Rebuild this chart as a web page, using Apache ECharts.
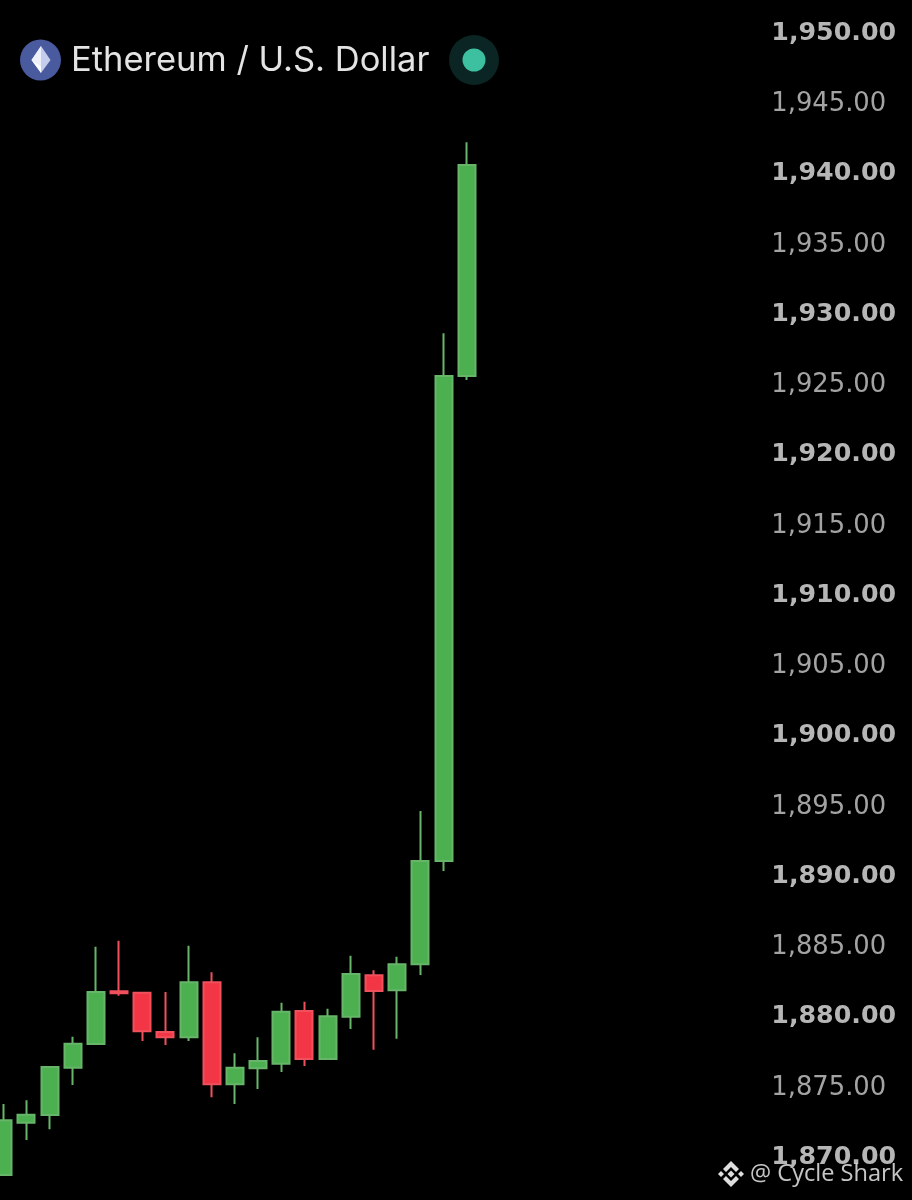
<!DOCTYPE html>
<html>
<head>
<meta charset="utf-8">
<style>html,body{margin:0;padding:0;background:#000}#c{width:912px;height:1200px}</style>
<script src="https://cdn.jsdelivr.net/npm/echarts@6/dist/echarts.min.js"></script>
</head>
<body>
<div id="c"></div>
<script>
const title = 'Ethereum / U.S. Dollar';
const watermark = '@ Cycle Shark';
const categories = ['1','2','3','4','5','6','7','8','9','10','11','12','13','14','15','16','17','18','19','20','21',
  '22','23','24','25','26','27','28','29','30','31','32','33'];
const opens  = [1868.58,1872.30,1872.85,1876.21,1877.90,1881.65,1881.55,1878.75,1878.38,1882.29,1875.03,1876.17,1876.50,1880.25,1876.83,1879.84,1882.79,1881.72,1883.57,1890.93,1925.44];
const closes = [1872.47,1872.87,1876.26,1877.92,1881.60,1881.51,1878.80,1878.38,1882.29,1875.03,1876.21,1876.69,1880.20,1876.83,1879.87,1882.88,1881.67,1883.57,1890.93,1925.44,1940.46];
const lows   = [1868.58,1871.07,1871.83,1874.98,1877.90,1881.34,1878.11,1877.83,1878.11,1874.11,1873.63,1874.70,1875.91,1876.33,1876.83,1878.97,1877.50,1878.28,1882.81,1890.21,1925.16];
const highs  = [1873.63,1873.89,1876.26,1878.42,1884.83,1885.25,1881.55,1881.60,1884.90,1883.00,1877.24,1878.38,1880.84,1880.91,1880.41,1884.19,1883.15,1884.11,1894.48,1928.48,1942.08];

const candles = opens.map((o, i) => [o, closes[i], lows[i], highs[i]]);
const fmt = v => v.toLocaleString('en-US', {minimumFractionDigits: 2, maximumFractionDigits: 2});

const chart = echarts.init(document.getElementById('c'), null, {renderer: 'canvas', width: 912, height: 1200});
chart.setOption({
  backgroundColor: '#000',
  animation: false,
  grid: {left: -8.3, top: 31, width: 764.6, height: 1194.25, containLabel: false, outerBoundsMode: 'none'},
  xAxis: {type: 'category', data: categories, show: false, boundaryGap: true},
  yAxis: {
    type: 'value', position: 'right', min: 1865, max: 1950, interval: 5, scale: true,
    axisLine: {show: false}, axisTick: {show: false}, splitLine: {show: false},
    axisLabel: {
      show: true, margin: 15,
      formatter: v => v <= 1865 ? '' : (v % 10 === 0 ? '{b|' + fmt(v) + '}' : '{r|' + fmt(v) + '}'),
      rich: {
        b: {fontFamily: 'DejaVu Sans', fontWeight: 'bold', fontSize: 25.3, color: '#b6b6b6', padding: [4, 0, 0, 0]},
        r: {fontFamily: 'DejaVu Sans', fontSize: 25.8, color: '#a3a3a3', padding: [7, 0, 0, 0]}
      }
    }
  },
  series: [{
    type: 'candlestick',
    data: candles,
    barWidth: 17.5,
    clip: false,
    itemStyle: {
      color: '#4caf50', borderColor: '#66b569', borderWidth: 2,
      color0: '#f23645', borderColor0: '#f0505c'
    }
  }],
  graphic: [
    {type: 'circle', z: 50, shape: {cx: 40.5, cy: 60, r: 20.5}, style: {fill: '#4a5a9f'}},
    {type: 'polygon', z: 51, shape: {points: [[41,46],[50.5,60],[41,73],[31.5,60]]}, style: {fill: '#c4cdee'}},
    {type: 'polygon', z: 52, shape: {points: [[41,46],[41,66],[31.5,60]]}, style: {fill: '#eef0fa'}},
    {type: 'polygon', z: 52, shape: {points: [[41,66],[41,73],[31.5,60]]}, style: {fill: '#ffffff'}},
    {type: 'text', z: 50, style: {x: 71, y: 61, text: title, fill: '#e4e4e4', font: '34.5px Inter', textVerticalAlign: 'middle', textAlign: 'left'}},
    {type: 'circle', z: 50, shape: {cx: 474, cy: 60, r: 25}, style: {fill: '#0a2523'}},
    {type: 'circle', z: 51, shape: {cx: 474, cy: 60, r: 11.5}, style: {fill: '#3dc0a0'}},
    {type: 'polygon', z: 60, shape: {points: [[731,1161],[739,1169],[736,1172],[731,1167],[726,1172],[723,1169]]}, style: {fill: '#dedede'}},
    {type: 'polygon', z: 60, shape: {points: [[731,1187],[739,1179],[736,1176],[731,1181],[726,1176],[723,1179]]}, style: {fill: '#dedede'}},
    {type: 'polygon', z: 60, shape: {points: [[731,1170.5],[734.5,1174],[731,1177.5],[727.5,1174]]}, style: {fill: '#dedede'}},
    {type: 'polygon', z: 60, shape: {points: [[721,1171],[724,1174],[721,1177],[718,1174]]}, style: {fill: '#dedede'}},
    {type: 'polygon', z: 60, shape: {points: [[741,1171],[744,1174],[741,1177],[738,1174]]}, style: {fill: '#dedede'}},
    {type: 'text', z: 60, style: {x: 750, y: 1174, text: watermark, fill: 'rgba(225,225,225,0.88)', font: '23.6px "Open Sans"', textVerticalAlign: 'middle', textAlign: 'left'}}
  ]
});
</script>
</body>
</html>
